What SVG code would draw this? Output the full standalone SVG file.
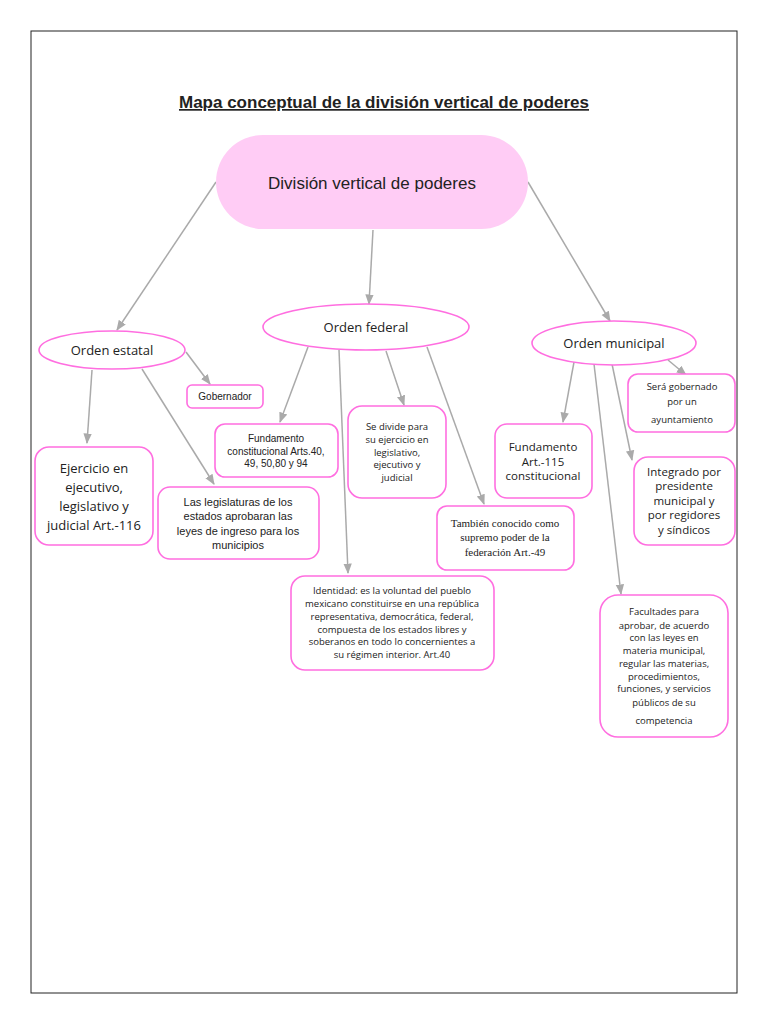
<svg xmlns="http://www.w3.org/2000/svg" width="768" height="1024" viewBox="0 0 768 1024">
<style>
.b{fill:#fff;stroke:#ff6ee0;stroke-width:1.6}
.t{font-family:"Liberation Sans",Arial,sans-serif;fill:#222;text-anchor:middle}
.c{font-family:"Open Sans","Liberation Sans",sans-serif;fill:#222;text-anchor:middle}
.s{font-family:"Liberation Serif",serif;fill:#222;text-anchor:middle}
#conn line{stroke:#aaa;stroke-width:1.5;marker-end:url(#a)}
</style>
<defs><marker id="a" viewBox="0 0 10 10" refX="9" refY="5" markerWidth="7" markerHeight="7" orient="auto"><path d="M0,1L10,5L0,9z" fill="#aaa"/></marker></defs>
<rect width="768" height="1024" fill="#fff"/>
<rect x="31" y="31" width="706" height="962" fill="none" stroke="#222" stroke-width="1"/>
<text x="384" y="108" class="t" font-size="17" font-weight="bold" text-decoration="underline">Mapa conceptual de la división vertical de poderes</text>
<g id="conn">
<line x1="216" y1="182" x2="117" y2="330"/>
<line x1="373" y1="230" x2="369" y2="304"/>
<line x1="528" y1="182" x2="610" y2="321"/>
<line x1="186" y1="352" x2="210" y2="384"/>
<line x1="92" y1="370" x2="87" y2="443"/>
<line x1="142" y1="369" x2="214" y2="484"/>
<line x1="308" y1="347" x2="280" y2="422"/>
<line x1="339" y1="350" x2="348" y2="573"/>
<line x1="386" y1="351" x2="404" y2="405"/>
<line x1="427" y1="347" x2="484" y2="504"/>
<line x1="574" y1="362" x2="563" y2="422"/>
<line x1="594" y1="364" x2="621" y2="594"/>
<line x1="612" y1="364" x2="632" y2="460"/>
<line x1="668" y1="360" x2="686" y2="375"/>
</g>
<g id="main"><rect x="216" y="135" width="312" height="94" rx="47" fill="#ffccf5"/><text x="372" y="189" class="t" font-size="17">División vertical de poderes</text></g>
<g id="estatal"><ellipse cx="112" cy="350" rx="73" ry="19" class="b"/><text x="112" y="355" class="c" font-size="13">Orden estatal</text></g>
<g id="federal"><ellipse cx="366" cy="327" rx="103" ry="23" class="b"/><text x="366" y="332" class="c" font-size="13">Orden federal</text></g>
<g id="municipal"><ellipse cx="614" cy="343" rx="82" ry="22" class="b"/><text x="614" y="348" class="c" font-size="13">Orden municipal</text></g>
<g id="gobernador"><rect x="187" y="385" width="76" height="23" rx="5" class="b"/><text x="225" y="400" class="t" font-size="10">Gobernador</text></g>
<g id="fundfed"><rect x="215" y="424" width="123" height="53" rx="10" class="b"/><text class="t" font-size="10"><tspan x="276" y="442">Fundamento</tspan><tspan x="276" y="455">constitucional Arts.40,</tspan><tspan x="276" y="467">49, 50,80 y 94</tspan></text></g>
<g id="divide"><rect x="348" y="406" width="98" height="92" rx="14" class="b"/><text class="c" font-size="9.5"><tspan x="397" y="430">Se divide para</tspan><tspan x="397" y="443">su ejercicio en</tspan><tspan x="397" y="456">legislativo,</tspan><tspan x="397" y="468">ejecutivo y</tspan><tspan x="397" y="481">judicial</tspan></text></g>
<g id="ejercicio"><rect x="35" y="447" width="118" height="98" rx="14" class="b"/><text class="c" font-size="13"><tspan x="94" y="473">Ejercicio en</tspan><tspan x="94" y="492">ejecutivo,</tspan><tspan x="94" y="511">legislativo y</tspan><tspan x="94" y="530">judicial Art.-116</tspan></text></g>
<g id="legislaturas"><rect x="158" y="487" width="161" height="72" rx="12" class="b"/><text class="t" font-size="11"><tspan x="238" y="506">Las legislaturas de los</tspan><tspan x="238" y="520">estados aprobaran las</tspan><tspan x="238" y="535">leyes de ingreso para los</tspan><tspan x="238" y="549">municipios</tspan></text></g>
<g id="tambien"><rect x="437" y="506" width="137" height="64" rx="10" class="b"/><text class="s" font-size="11"><tspan x="505" y="527">También conocido como</tspan><tspan x="505" y="541">supremo poder de la</tspan><tspan x="505" y="556">federación Art.-49</tspan></text></g>
<g id="identidad"><rect x="291" y="576" width="203" height="94" rx="14" class="b"/><text class="c" font-size="9.5"><tspan x="392" y="594">Identidad: es la voluntad del pueblo</tspan><tspan x="392" y="607">mexicano constituirse en una república</tspan><tspan x="392" y="620">representativa, democrática, federal,</tspan><tspan x="392" y="633">compuesta de los estados libres y</tspan><tspan x="392" y="645">soberanos en todo lo concernientes a</tspan><tspan x="392" y="658">su régimen interior. Art.40</tspan></text></g>
<g id="fundmun"><rect x="495" y="424" width="97" height="74" rx="12" class="b"/><text class="c" font-size="11.5"><tspan x="543" y="451">Fundamento</tspan><tspan x="543" y="466">Art.-115</tspan><tspan x="543" y="480">constitucional</tspan></text></g>
<g id="sera"><rect x="628" y="374" width="107" height="58" rx="10" class="b"/><text class="c" font-size="9.5"><tspan x="682" y="390">Será gobernado</tspan><tspan x="682" y="405">por un</tspan><tspan x="682" y="423">ayuntamiento</tspan></text></g>
<g id="integrado"><rect x="634" y="457" width="101" height="88" rx="14" class="b"/><text class="c" font-size="11.5"><tspan x="684" y="476">Integrado por</tspan><tspan x="684" y="490">presidente</tspan><tspan x="684" y="505">municipal y</tspan><tspan x="684" y="519">por regidores</tspan><tspan x="684" y="534">y síndicos</tspan></text></g>
<g id="facultades"><rect x="600" y="595" width="128" height="142" rx="18" class="b"/><text class="c" font-size="9.5"><tspan x="664" y="615">Facultades para</tspan><tspan x="664" y="629">aprobar, de acuerdo</tspan><tspan x="664" y="641">con las leyes en</tspan><tspan x="664" y="654">materia municipal,</tspan><tspan x="664" y="667">regular las materias,</tspan><tspan x="664" y="680">procedimientos,</tspan><tspan x="664" y="692">funciones, y servicios</tspan><tspan x="664" y="706">públicos de su</tspan><tspan x="664" y="724">competencia</tspan></text></g>
</svg>
